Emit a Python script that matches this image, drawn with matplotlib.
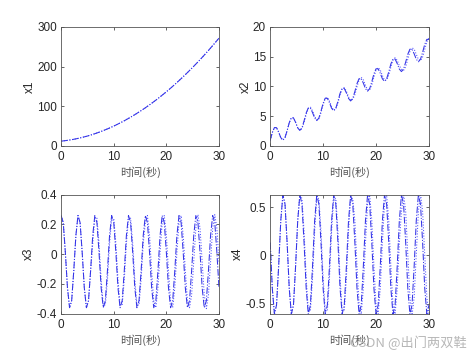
import numpy as np
import matplotlib
matplotlib.use("Agg")
import matplotlib.pyplot as plt

plt.rcParams['font.family'] = ['Liberation Sans', 'Noto Sans CJK SC']

# sample times
t1 = np.arange(0, 31)            # x1 read every 1 s
t = np.linspace(0, 30, 76)       # x2..x4 read every 0.4 s

x1 = [12.0, 13.6, 15.7, 18.3, 21.4, 24.9, 29.0, 33.5, 38.5, 44.0,
      50.0, 56.5, 63.4, 70.9, 78.8, 87.2, 96.1, 105.5, 115.4, 125.8,
      136.6, 147.9, 159.8, 172.1, 184.9, 198.1, 211.9, 226.1, 240.9, 256.1,
      271.8]

x2_a = [0.91, 2.24, 3.08, 3.07, 2.32, 1.40, 0.96, 1.40, 2.56, 3.89,
        4.73, 4.71, 3.97, 3.04, 2.61, 3.04, 4.20, 5.54, 6.38, 6.36,
        5.61, 4.69, 4.26, 4.69, 5.85, 7.18, 8.03, 8.01, 7.26, 6.34,
        5.91, 6.34, 7.50, 8.83, 9.68, 9.66, 8.91, 7.99, 7.56, 7.99,
        9.15, 10.48, 11.32, 11.31, 10.56, 9.64, 9.20, 9.64, 10.80, 12.13,
        12.97, 12.95, 12.21, 11.28, 10.85, 11.28, 12.44, 13.78, 14.62, 14.60,
        13.85, 12.93, 12.50, 12.93, 14.09, 15.42, 16.27, 16.25, 15.50, 14.58,
        14.15, 14.58, 15.74, 17.07, 17.92, 17.90]
x2_b = [0.91, 2.24, 3.08, 3.07, 2.32, 1.40, 0.96, 1.40, 2.56, 3.89,
        4.73, 4.71, 3.97, 3.04, 2.61, 2.90, 3.92, 5.28, 6.29, 6.50,
        5.90, 4.95, 4.35, 4.55, 5.57, 6.93, 7.94, 8.15, 7.54, 6.60,
        5.99, 6.20, 7.22, 8.57, 9.59, 9.80, 9.19, 8.25, 7.64, 7.85,
        8.61, 9.94, 11.10, 11.53, 11.10, 10.18, 9.43, 9.41, 10.25, 11.59,
        12.75, 13.18, 12.75, 11.83, 11.08, 11.06, 11.90, 13.24, 14.40, 14.83,
        14.39, 13.47, 12.91, 12.68, 13.32, 14.59, 15.86, 16.50, 16.27, 15.41,
        14.56, 14.33, 14.97, 16.24, 17.51, 18.15]

x3_a = [0.259, 0.212, 0.011, -0.225, -0.359, -0.312, -0.111, 0.125,
        0.259, 0.212, 0.011, -0.225, -0.359, -0.312, -0.111, 0.125,
        0.259, 0.212, 0.011, -0.225, -0.359, -0.312, -0.111, 0.125,
        0.259, 0.212, 0.011, -0.225, -0.359, -0.312, -0.111, 0.125,
        0.259, 0.212, 0.011, -0.225, -0.359, -0.312, -0.111, 0.125,
        0.259, 0.212, 0.011, -0.225, -0.359, -0.312, -0.111, 0.125,
        0.259, 0.212, 0.011, -0.225, -0.359, -0.312, -0.111, 0.125,
        0.259, 0.212, 0.011, -0.225, -0.359, -0.312, -0.111, 0.125,
        0.259, 0.212, 0.011, -0.225, -0.359, -0.312, -0.111, 0.125,
        0.259, 0.212, 0.011, -0.225]
x3_b = [0.259, 0.212, 0.011, -0.225, -0.359, -0.312, -0.111, 0.125,
        0.259, 0.212, 0.011, -0.225, -0.359, -0.312, -0.111, 0.071,
        0.241, 0.241, 0.071, -0.171, -0.341, -0.341, -0.171, 0.071,
        0.241, 0.241, 0.071, -0.171, -0.341, -0.341, -0.171, 0.071,
        0.241, 0.241, 0.071, -0.171, -0.341, -0.341, -0.171, 0.071,
        0.212, 0.259, 0.125, -0.111, -0.312, -0.359, -0.225, 0.011,
        0.212, 0.259, 0.125, -0.111, -0.312, -0.359, -0.225, 0.011,
        0.212, 0.259, 0.125, -0.111, -0.312, -0.359, -0.273, -0.050,
        0.173, 0.265, 0.173, -0.050, -0.273, -0.365, -0.273, -0.050,
        0.173, 0.265, 0.173, -0.050]

x4_a = [0.133, -0.340, -0.608, -0.514, -0.113, 0.360, 0.628, 0.534,
        0.133, -0.340, -0.608, -0.514, -0.113, 0.360, 0.628, 0.534,
        0.133, -0.340, -0.608, -0.514, -0.113, 0.360, 0.628, 0.534,
        0.133, -0.340, -0.608, -0.514, -0.113, 0.360, 0.628, 0.534,
        0.133, -0.340, -0.608, -0.514, -0.113, 0.360, 0.628, 0.534,
        0.133, -0.340, -0.608, -0.514, -0.113, 0.360, 0.628, 0.534,
        0.133, -0.340, -0.608, -0.514, -0.113, 0.360, 0.628, 0.534,
        0.133, -0.340, -0.608, -0.514, -0.113, 0.360, 0.628, 0.534,
        0.133, -0.340, -0.608, -0.514, -0.113, 0.360, 0.628, 0.534,
        0.133, -0.340, -0.608, -0.514]
x4_b = [0.133, -0.340, -0.608, -0.514, -0.113, 0.360, 0.628, 0.534,
        0.133, -0.340, -0.608, -0.514, -0.113, 0.360, 0.628, 0.592,
        0.251, -0.231, -0.572, -0.572, -0.231, 0.251, 0.592, 0.592,
        0.251, -0.231, -0.572, -0.572, -0.231, 0.251, 0.592, 0.592,
        0.251, -0.231, -0.572, -0.572, -0.231, 0.251, 0.592, 0.592,
        0.360, -0.113, -0.514, -0.608, -0.340, 0.133, 0.534, 0.628,
        0.360, -0.113, -0.514, -0.608, -0.340, 0.133, 0.534, 0.628,
        0.360, -0.113, -0.514, -0.608, -0.340, 0.133, 0.455, 0.640,
        0.455, 0.010, -0.435, -0.620, -0.435, 0.010, 0.455, 0.640,
        0.455, 0.010, -0.435, -0.620]

xlabel = '时间(秒)'
cjk = ['Noto Sans CJK SC', 'DejaVu Sans']
grey = '#262626'

fig = plt.figure(figsize=(4.74, 3.55), dpi=100)
boxes = [[0.129, 0.589, 0.333, 0.335], [0.570, 0.589, 0.335, 0.335],
         [0.129, 0.116, 0.333, 0.336], [0.570, 0.116, 0.335, 0.336]]

panels = [
    ('x1', t1, x1, x1, (0, 300), [0, 100, 200, 300]),
    ('x2', t, x2_a, x2_b, (0, 20), [0, 5, 10, 15, 20]),
    ('x3', t, x3_a, x3_b, (-0.4, 0.4), [-0.4, -0.2, 0, 0.2, 0.4]),
    ('x4', t, x4_a, x4_b, (-0.605, 0.632), [-0.5, 0, 0.5]),
]

for box, (name, tt, ya, yb, ylim, yticks) in zip(boxes, panels):
    ax = fig.add_axes(box)
    ax.plot(tt, yb, color='#5050ff', linestyle=':', linewidth=0.75)
    ax.plot(tt, ya, color='#3434e6', linestyle='-.', linewidth=0.75)
    ax.set_xlim(0, 30)
    ax.set_ylim(*ylim)
    ax.set_xticks([0, 10, 20, 30])
    ax.set_yticks(yticks)
    ax.set_yticklabels([f'{v:g}' for v in yticks])
    ax.tick_params(direction='in', length=2.5, width=0.5, top=True, right=True,
                   labelsize=8.5, colors=grey, pad=3)
    ax.tick_params(axis='x', pad=4)
    for sp in ax.spines.values():
        sp.set_color('#555555')
        sp.set_linewidth(0.6)
    ax.set_xlabel(xlabel, fontsize=8, color='#555555', family=cjk, labelpad=2)
    ax.set_ylabel(name, fontsize=8.5, color=grey, labelpad=1)

fig.text(0.985, 0.035, 'CSDN @出门两双鞋', ha='right', va='center', fontsize=9.5,
         color='#b0b0b0', alpha=0.9, family=cjk)

fig.savefig('out.png', dpi=100)
